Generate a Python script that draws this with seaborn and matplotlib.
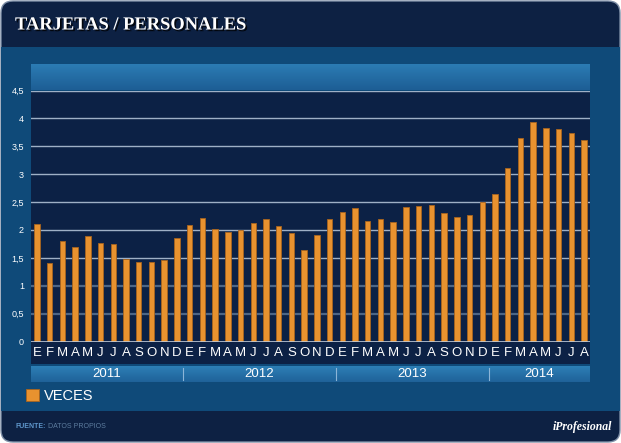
import numpy as np
import pandas as pd
import seaborn as sns
import matplotlib.pyplot as plt
from matplotlib.colors import LinearSegmentedColormap
from matplotlib.patches import FancyBboxPatch, Rectangle
import matplotlib.patheffects as pe

# monthly values (veces), Jan 2011 - Aug 2014
veces_2011 = [2.10, 1.40, 1.81, 1.70, 1.89, 1.77, 1.74, 1.48, 1.43, 1.42, 1.46, 1.85]
veces_2012 = [2.09, 2.22, 2.01, 1.96, 2.00, 2.12, 2.19, 2.07, 1.95, 1.64, 1.91, 2.20]
veces_2013 = [2.32, 2.40, 2.16, 2.19, 2.14, 2.41, 2.43, 2.45, 2.30, 2.24, 2.27, 2.50]
veces_2014 = [2.64, 3.11, 3.64, 3.93, 3.83, 3.81, 3.74, 3.61]

years = ["2011", "2012", "2013", "2014"]
month_letters = list("EFMAMJJASOND")
y_ticks = [0, 0.5, 1, 1.5, 2, 2.5, 3, 3.5, 4, 4.5]
y_tick_labels = ["0", "0,5", "1", "1,5", "2", "2,5", "3", "3,5", "4", "4,5"]

series = [veces_2011, veces_2012, veces_2013, veces_2014]
values = [v for s in series for v in s]
months = [month_letters[i] for s in series for i in range(len(s))]
year_col = [y for y, s in zip(years, series) for _ in s]
df = pd.DataFrame({"idx": range(len(values)), "mes": months,
                   "anio": year_col, "veces": values})

NAVY = "#0d2143"
BODY = "#0f4a79"
PLOT_BG = "#0c2145"
ORANGE = "#e8922f"

plt.rcParams["font.family"] = ["Liberation Sans", "DejaVu Sans"]

W, H = 621, 443
fig = plt.figure(figsize=(W / 100, H / 100), dpi=100)
fig.patch.set_facecolor("white")


def fy(top_px):
    """figure fraction from a pixel row measured from the top"""
    return 1 - top_px / H


# background frame (pixel coords)
fig.add_artist(FancyBboxPatch((1, 1), W - 2, H - 2, boxstyle="round,pad=0,rounding_size=12",
                              facecolor=NAVY, edgecolor="#7d8ea6", lw=1,
                              transform=None, zorder=-10))
fig.add_artist(Rectangle((1, H - 411), W - 2, 411 - 47, facecolor=BODY,
                         edgecolor="none", transform=None, zorder=-9))
fig.add_artist(Rectangle((31, H - 364), 559, 22, facecolor=PLOT_BG,
                         edgecolor="none", transform=None, zorder=-8))

x0, x1 = 31 / W, 590 / W
xlim = (-0.47, len(values) - 1 + 0.47)

# main bars
ax = fig.add_axes([x0, fy(341.5), x1 - x0, (341.5 - 90.5) / H])
ax.set_facecolor(PLOT_BG)
for t in y_ticks[1:]:
    col = "#4d6686" if t <= 1 else "#9fb0c6"
    lw = 1.6 if t <= 1 else 1.0
    ax.axhline(t, color=col, lw=lw, zorder=0)
sns.barplot(data=df, x="idx", y="veces", color=ORANGE, width=0.43,
            edgecolor="#a8641e", linewidth=0.6, saturation=1, ax=ax,
            label="VECES", zorder=3)
ax.axhline(0, color="#c0cad8", lw=1.2, zorder=4)
ax.set_xlim(*xlim)
ax.set_ylim(0, 4.5)
ax.set_yticks(y_ticks)
ax.set_yticklabels(y_tick_labels)
ax.set_xticks(df["idx"])
ax.set_xticklabels(df["mes"])
ax.tick_params(axis="y", length=0, pad=5, labelsize=6.5, labelcolor="white")
ax.tick_params(axis="x", length=0, pad=4, labelsize=9.5, labelcolor="white")
ax.set_xlabel("")
ax.set_ylabel("")
for s in ax.spines.values():
    s.set_visible(False)

leg = ax.legend(loc="center left", bbox_to_anchor=(13 / W, fy(396)),
                bbox_transform=fig.transFigure, frameon=False,
                fontsize=10.5, labelcolor="white", handlelength=0.85,
                handleheight=0.85, handletextpad=0.4)

# gradient band above plot
grad = np.linspace(0, 1, 50).reshape(-1, 1)
band = fig.add_axes([x0, fy(90.5), x1 - x0, (90.5 - 64) / H])
band.imshow(grad, aspect="auto", cmap=LinearSegmentedColormap.from_list(
    "b", ["#2c7db5", "#1d5e95"]), extent=(0, 1, 0, 1), origin="upper")
band.set_xlim(0, 1)
band.set_ylim(0, 1)
band.axis("off")

# year band
yb = fig.add_axes([x0, fy(382), x1 - x0, (382 - 366) / H])
yb.imshow(grad, aspect="auto", cmap=LinearSegmentedColormap.from_list(
    "y", ["#2d7fb6", "#1f6299"]), extent=(xlim[0], xlim[1], 0, 1), origin="upper")
yb.set_xlim(*xlim)
yb.set_ylim(0, 1)
yb.axis("off")
start = 0
for y, s in zip(years, series):
    end = start + len(s)
    yb.text((start + end - 1) / 2, 0.5, y, color="white", fontsize=9.5,
            ha="center", va="center")
    if start > 0:
        yb.axvline(start - 0.5, ymin=0.1, ymax=0.9, color="#8cb5d8", lw=0.8)
    start = end

# title and footer
fig.text(15 / W, fy(25), "TARJETAS / PERSONALES", family="Liberation Serif",
         weight="bold", fontsize=13.3, color="white", va="center",
         path_effects=[pe.withSimplePatchShadow(offset=(1.2, -1.2), shadow_rgbFace="black", alpha=0.8)])
fig.text(15 / W, fy(427), "FUENTE:", weight="bold", fontsize=5, color="#5f97cc", va="center")
fig.text(48 / W, fy(427), "DATOS PROPIOS", fontsize=5, color="#5d7d9f", va="center")
fig.text(612 / W, fy(427), "iProfesional", family="Liberation Serif", style="italic",
         weight="bold", fontsize=8.5, color="white", ha="right", va="center")

fig.savefig("out.png", dpi=100, facecolor=fig.get_facecolor())
